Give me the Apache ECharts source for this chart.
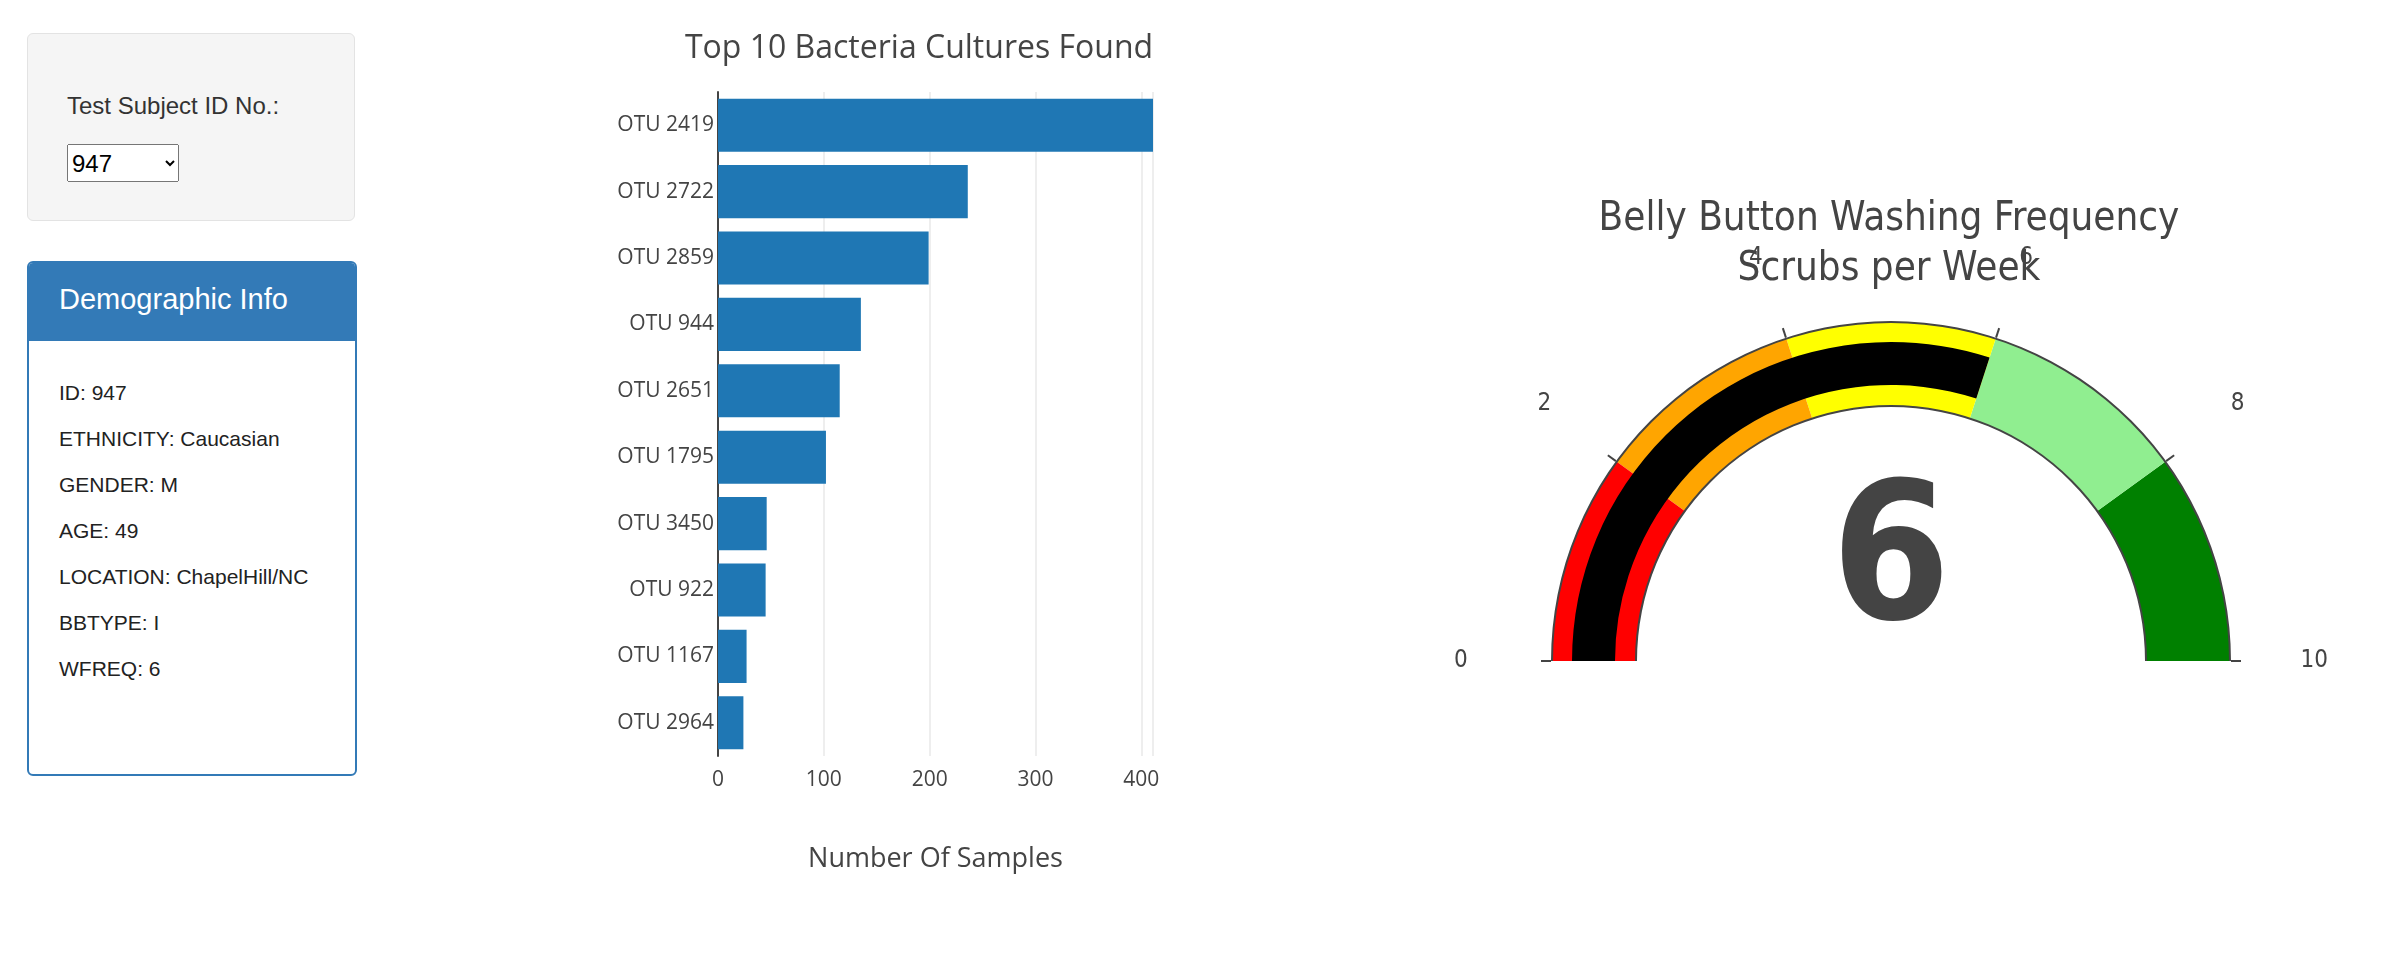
<!DOCTYPE html>
<html>
<head>
<meta charset="utf-8">
<script src="https://cdn.jsdelivr.net/npm/echarts@6/dist/echarts.min.js"></script>
<style>
  body { margin: 0; background: #fff; font-family: "Liberation Sans", Arial, sans-serif; }
  #well { position: absolute; left: 27px; top: 33px; width: 326px; height: 186px; background: #f5f5f5; border: 1px solid #e3e3e3; border-radius: 6px; }
  #well .lbl { position: absolute; left: 39px; top: 58px; font-size: 24px; color: #333; }
  #well select { position: absolute; left: 39px; top: 110px; width: 112px; height: 38px; font-size: 24px; }
  #panel { position: absolute; left: 27px; top: 261px; width: 326px; height: 511px; border: 2px solid #337ab7; border-radius: 6px; overflow: hidden; }
  #panel .hd { background: #337ab7; color: #fff; height: 78px; line-height: 72px; font-size: 29px; padding-left: 30px; }
  #panel .bd { padding: 40px 0 0 30px; font-size: 21px; color: #222; }
  #panel .bd div { margin-bottom: 22px; line-height: 24px; }
  #bar { position: absolute; left: 550px; top: 0; width: 650px; height: 878px; }
  #gauge { position: absolute; left: 1300px; top: 0; width: 1082px; height: 966px; }
</style>
</head>
<body>
<div id="well"><div class="lbl">Test Subject ID No.:</div><select><option>947</option></select></div>
<div id="panel"><div class="hd">Demographic Info</div><div class="bd" id="meta"></div></div>
<div id="bar"></div>
<div id="gauge"></div>
<script>
(function() {
    // top 10 OTUs
    var otuLabels = ['OTU 2419', 'OTU 2722', 'OTU 2859', 'OTU 944', 'OTU 2651', 'OTU 1795', 'OTU 3450', 'OTU 922', 'OTU 1167', 'OTU 2964'];
    var sampleValues = [411, 236, 199, 135, 115, 102, 46, 45, 27, 24];
    var xTicks = [0, 100, 200, 300, 400];
    // demographic info
    var metaLines = ['ID: 947', 'ETHNICITY: Caucasian', 'GENDER: M', 'AGE: 49', 'LOCATION: ChapelHill/NC', 'BBTYPE: I', 'WFREQ: 6'];
    // gauge
    var wfreq = 6;
    var gaugeSteps = [[0.2, 'red'], [0.4, 'orange'], [0.6, 'yellow'], [0.8, 'lightgreen'], [1, 'green']];

    document.getElementById('meta').innerHTML = metaLines.map(function(t) { return '<div>' + t + '</div>'; }).join('');

    var barChart = echarts.init(document.getElementById('bar'));
    barChart.setOption({
        textStyle: { fontFamily: 'Open Sans' },
        title: { text: 'Top 10 Bacteria Cultures Found', left: 364, top: 28, textAlign: 'center',
            textStyle: { fontSize: 32, fontWeight: 'normal', color: '#444', fontFamily: 'Open Sans' } },
        grid: { left: 168, top: 92, width: 435, height: 681 },
        xAxis: {
            type: 'value', min: 0, max: 411, interval: 100,
            name: 'Number Of Samples', nameLocation: 'middle', nameGap: 90,
            nameTextStyle: { fontSize: 27, color: '#444' },
            axisLine: { show: false }, axisTick: { show: false },
            splitLine: { lineStyle: { color: '#eee', width: 2 } },
            axisLabel: { fontSize: 21, color: '#444', margin: 14,
                formatter: function(v) { return xTicks.indexOf(v) >= 0 ? v : ''; } }
        },
        yAxis: {
            type: 'category', data: otuLabels, inverse: true,
            axisLine: { lineStyle: { color: '#444', width: 2 } }, axisTick: { show: false },
            axisLabel: { fontSize: 21, color: '#444', margin: 4 }
        },
        series: [{ type: 'bar', data: sampleValues, barCategoryGap: '20%', itemStyle: { color: '#1f77b4' } }]
    });

    var gaugeChart = echarts.init(document.getElementById('gauge'));
    var c = [591, 661];
    gaugeChart.setOption({
        title: { text: 'Belly Button Washing Frequency\nScrubs per Week', left: 584, top: 190, textAlign: 'center',
            textStyle: { fontSize: 40, fontWeight: 'normal', color: '#444', lineHeight: 50, fontFamily: 'DejaVu Sans Condensed' } },
        series: [{
            type: 'gauge', center: c, radius: 339, startAngle: 180, endAngle: 0, min: 0, max: 10, splitNumber: 5,
            axisLine: { lineStyle: { width: 84, color: gaugeSteps } },
            pointer: { show: false }, axisTick: { show: false }, splitLine: { show: false },
            axisLabel: { distance: -118, fontSize: 24, color: '#444', fontFamily: 'DejaVu Sans Condensed' },
            detail: { show: true, offsetCenter: [0, -92], fontSize: 190, color: '#444', fontFamily: 'DejaVu Sans Condensed',
                valueAnimation: false, formatter: '{value}' },
            data: [{ value: wfreq }]
        }, {
            type: 'gauge', center: c, radius: 319, startAngle: 180, endAngle: 0, min: 0, max: 10,
            axisLine: { show: false },
            progress: { show: true, width: 43, itemStyle: { color: '#000' } },
            pointer: { show: false }, axisTick: { show: false }, splitLine: { show: false }, axisLabel: { show: false },
            detail: { show: false }, animation: false,
            data: [{ value: wfreq }]
        }, {
            type: 'gauge', center: c, radius: 340, startAngle: 180, endAngle: 0, min: 0, max: 10, splitNumber: 5,
            axisLine: { lineStyle: { width: 2, color: [[1, '#444']] } },
            pointer: { show: false }, axisTick: { show: false },
            splitLine: { distance: -12, length: 10, lineStyle: { color: '#444', width: 2 } },
            axisLabel: { show: false }, detail: { show: false },
            data: [{ value: 0 }]
        }, {
            type: 'gauge', center: c, radius: 256, startAngle: 180, endAngle: 0, min: 0, max: 10,
            axisLine: { lineStyle: { width: 2, color: [[1, '#444']] } },
            pointer: { show: false }, axisTick: { show: false }, splitLine: { show: false },
            axisLabel: { show: false }, detail: { show: false },
            data: [{ value: 0 }]
        }]
    });
})()
</script>
</body>
</html>
